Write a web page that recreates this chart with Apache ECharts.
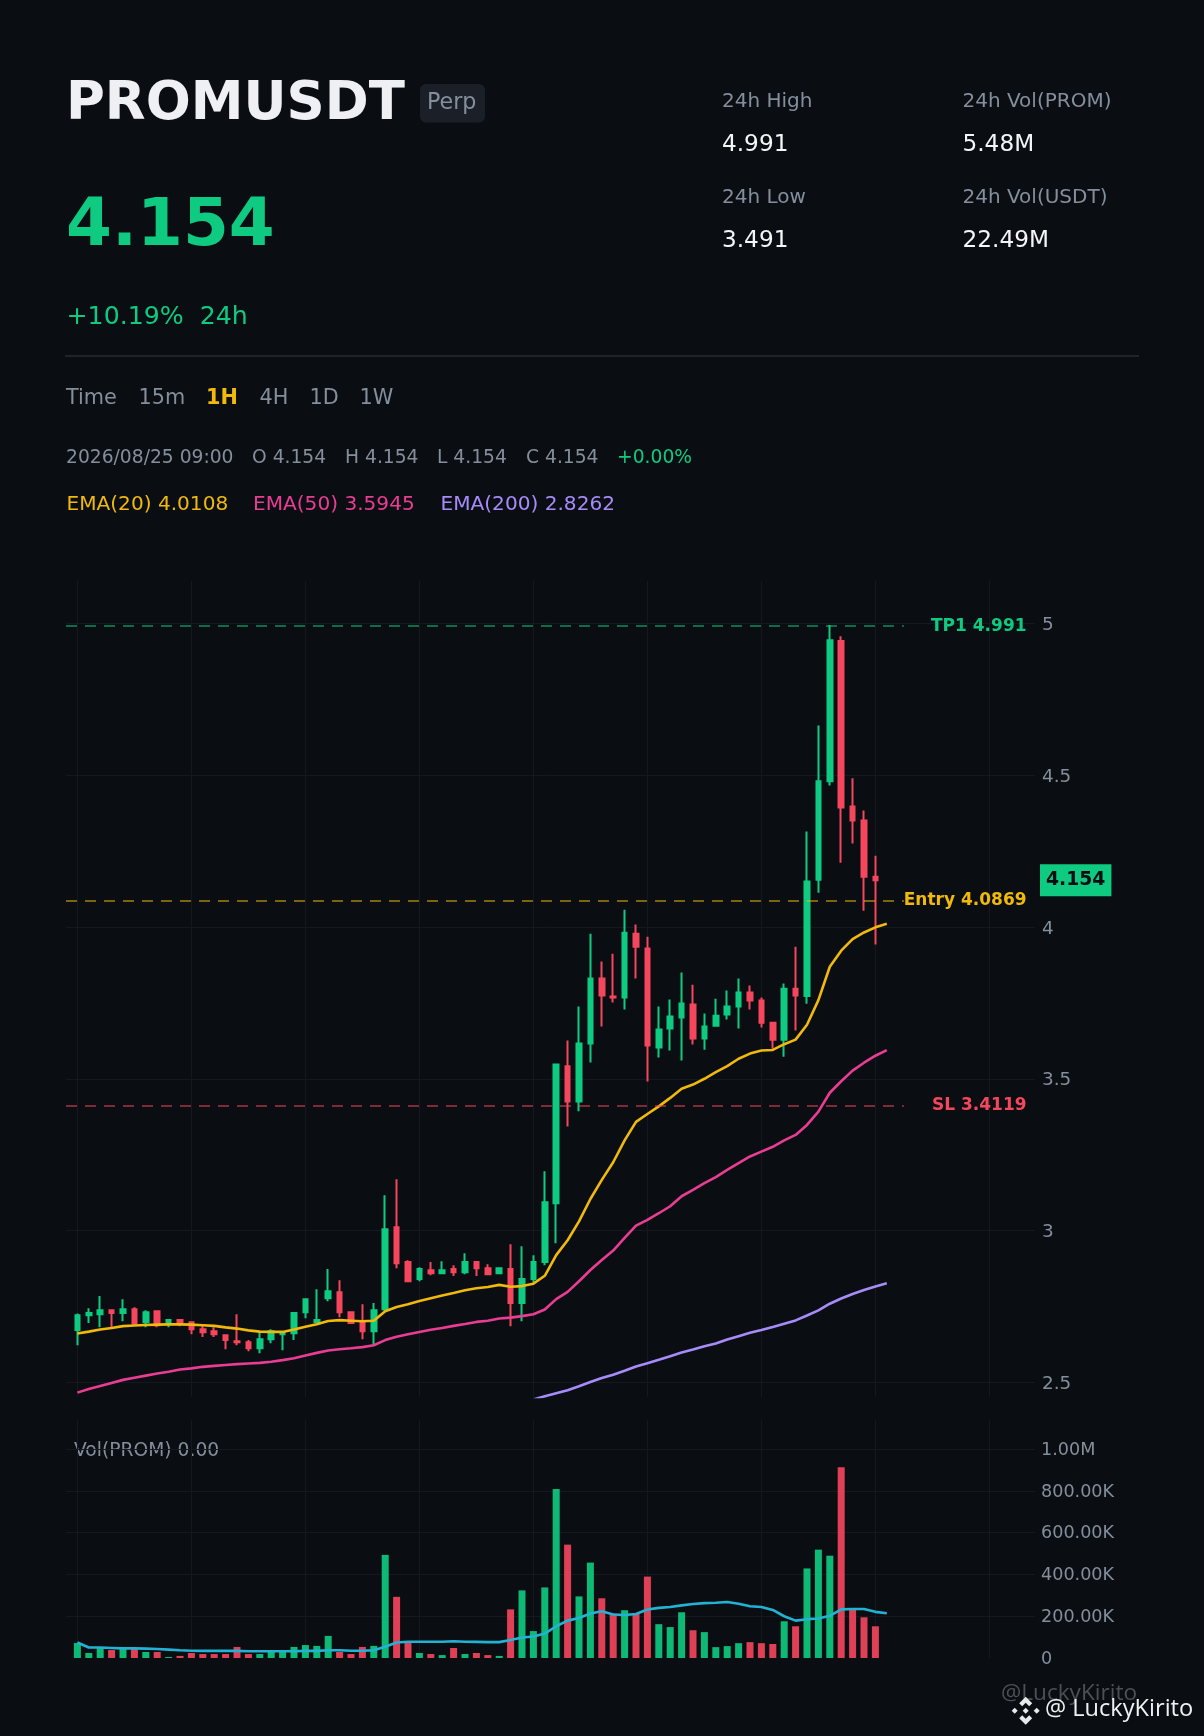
<!DOCTYPE html>
<html>
<head>
<meta charset="utf-8">
<style>html,body{margin:0;padding:0;background:#0a0e12}#c{width:1204px;height:1736px}</style>
<script src="https://cdn.jsdelivr.net/npm/echarts@6/dist/echarts.min.js"></script>
</head>
<body>
<div id="c"></div>
<script>
// ---- data (candle index = hourly bar, oldest first) ----
const candleOpen = [2.672,2.721,2.724,2.737,2.728,2.741,2.698,2.734,2.691,2.705,2.698,2.675,2.668,2.655,2.635,2.632,2.612,2.642,2.658,2.662,2.731,2.698,2.777,2.797,2.731,2.695,2.668,2.741,3.011,2.896,2.840,2.869,2.859,2.873,2.863,2.896,2.876,2.859,2.873,2.761,2.840,2.896,3.090,3.541,3.425,3.616,3.830,3.771,3.768,3.978,3.929,3.603,3.666,3.702,3.745,3.633,3.675,3.712,3.738,3.784,3.758,3.685,3.629,3.797,3.773,4.156,4.480,4.942,4.397,4.351,4.166];
const candleClose = [2.721,2.728,2.737,2.728,2.741,2.694,2.731,2.688,2.705,2.698,2.675,2.665,2.658,2.639,2.632,2.612,2.642,2.668,2.665,2.728,2.774,2.705,2.800,2.731,2.695,2.668,2.7375,3.004,2.892,2.833,2.873,2.859,2.869,2.863,2.896,2.876,2.856,2.876,2.761,2.840,2.896,3.093,3.547,3.425,3.616,3.830,3.774,3.768,3.981,3.935,3.610,3.662,3.705,3.748,3.633,3.672,3.708,3.738,3.784,3.758,3.685,3.629,3.797,3.774,4.150,4.480,4.945,4.394,4.351,4.166,4.154];
const candleLow = [2.622,2.695,2.681,2.681,2.701,2.687,2.681,2.681,2.681,2.685,2.658,2.649,2.649,2.609,2.622,2.602,2.596,2.629,2.606,2.639,2.711,2.695,2.767,2.714,2.695,2.642,2.622,2.734,2.876,2.833,2.833,2.853,2.856,2.850,2.856,2.850,2.853,2.856,2.685,2.701,2.826,2.886,2.958,3.343,3.393,3.554,3.672,3.751,3.728,3.830,3.491,3.570,3.593,3.560,3.613,3.596,3.675,3.695,3.666,3.728,3.669,3.599,3.573,3.659,3.747,4.113,4.466,4.212,4.275,4.054,3.942];
const candleHigh = [2.727,2.744,2.784,2.741,2.774,2.747,2.737,2.737,2.705,2.705,2.698,2.688,2.681,2.655,2.724,2.639,2.665,2.675,2.665,2.731,2.777,2.807,2.873,2.836,2.734,2.757,2.761,3.116,3.169,2.902,2.879,2.896,2.899,2.886,2.925,2.899,2.889,2.879,2.955,2.948,2.919,3.195,3.547,3.626,3.738,3.978,3.886,3.912,4.057,4.008,3.968,3.738,3.761,3.850,3.810,3.715,3.764,3.791,3.830,3.807,3.768,3.685,3.814,3.935,4.315,4.664,4.995,4.958,4.490,4.384,4.235];
const ema20 = [2.661,2.667,2.674,2.679,2.685,2.687,2.689,2.690,2.691,2.691,2.690,2.688,2.686,2.681,2.677,2.671,2.667,2.666,2.666,2.674,2.683,2.691,2.702,2.705,2.703,2.701,2.703,2.734,2.748,2.757,2.768,2.777,2.786,2.794,2.803,2.810,2.814,2.821,2.815,2.817,2.825,2.851,2.919,2.968,3.030,3.104,3.167,3.225,3.297,3.358,3.384,3.409,3.437,3.467,3.481,3.500,3.522,3.542,3.566,3.583,3.593,3.595,3.614,3.629,3.678,3.759,3.869,3.922,3.960,3.982,3.999,4.0108];
const ema50 = [2.466,2.478,2.488,2.498,2.508,2.515,2.522,2.529,2.535,2.542,2.546,2.551,2.554,2.557,2.560,2.562,2.564,2.568,2.573,2.579,2.588,2.597,2.605,2.609,2.612,2.616,2.622,2.639,2.650,2.658,2.666,2.673,2.679,2.686,2.692,2.699,2.703,2.710,2.713,2.718,2.724,2.740,2.774,2.798,2.833,2.870,2.903,2.934,2.976,3.016,3.035,3.057,3.080,3.113,3.134,3.156,3.176,3.200,3.222,3.244,3.260,3.276,3.297,3.315,3.348,3.392,3.454,3.492,3.527,3.553,3.576,3.5945];
// EMA(200) is below the visible price range before index 40
const ema200 = [null,null,null,null,null,null,null,null,null,null,null,null,null,null,null,null,null,null,null,null,null,null,null,null,null,null,null,null,null,null,null,null,null,null,null,null,null,null,null,null,2.443,2.454,2.464,2.474,2.487,2.501,2.514,2.525,2.538,2.552,2.563,2.574,2.586,2.598,2.608,2.619,2.628,2.641,2.652,2.663,2.672,2.682,2.693,2.704,2.720,2.737,2.759,2.776,2.791,2.804,2.816,2.8262];
const volume = [72,24,48,38,43,43,29,29,5,10,24,19,19,19,53,19,19,29,29,53,62,58,106,29,19,53,58,494,293,72,24,19,14,48,19,24,14,10,233,324,129,338,809,543,295,457,286,213,229,213,390,162,148,219,133,124,52,57,71,76,71,67,176,152,429,519,490,914,232,195,152,0];
const volumeMA = [74,50,50,48,46,46,45,43,40,37,35,34,34,34,34,32,32,32,32,32,34,34,37,37,35,35,37,54,74,78,78,78,78,80,78,77,76,76,86,98,103,117,152,179,192,213,224,208,206,211,232,240,244,252,259,263,265,268,260,248,244,230,200,179,186,189,202,233,235,235,221,214];
const priceMin = 2.4516, priceMax = 5.14;
const priceTicks = [2.5,3,3.5,4,4.5,5];
const timeTicks = [0,10,20,30,40,50,60,70,80];
const volTicksMax = 1140;
const lastPrice = 4.154;
const levels = [
  {name:'TP1', value:4.991, color:'#0ecb81'},
  {name:'Entry', value:4.0869, color:'#f0b90b'},
  {name:'SL', value:3.4119, color:'#f6465d'}
];

// ---- colours ----
const UP='#0ecb81', DOWN='#f6465d', BG='#0a0e12', GREY='#848e9c', GRID='#15191f', PINK='#e93d94';
const FONT='"DejaVu Sans"';

const rows = candleOpen.map((o,i)=>[i,o,candleClose[i],candleLow[i],candleHigh[i]]);
const pairs = a => a.map((v,i)=>[i,v]);
const isUp = i => i<candleOpen.length ? candleClose[i]>=candleOpen[i] : true;

function levelLine(l){
  return [{coord:[-1,l.value],lineStyle:{color:l.color,opacity:.5}},{coord:[72.5,l.value]}];
}

function txt(text,x,base,size,color,weight,family){
  return {type:'text',x:x,y:base-.261*size,silent:true,
    style:{text:text,fontSize:size,fill:color,fontWeight:weight||'normal',fontFamily:family||FONT,align:'left',verticalAlign:'middle'}};
}
const logo=[
 [[0,-14],[6.5,-7.5],[3.5,-4.5],[0,-8],[-3.5,-4.5],[-6.5,-7.5]],
 [[0,14],[6.5,7.5],[3.5,4.5],[0,8],[-3.5,4.5],[-6.5,7.5]],
 [[-14,0],[-11,-3],[-8,0],[-11,3]],
 [[14,0],[11,-3],[8,0],[11,3]],
 [[0,-3],[3,0],[0,3],[-3,0]]
].map(p=>({type:'polygon',x:1025.7,y:1710.7,silent:true,shape:{points:p},style:{fill:'#e8e9eb'}}));

const graphics=[
  {type:'rect',x:420,y:84,silent:true,shape:{width:65,height:38.5,r:6},style:{fill:'#1b1f28'}},
  txt('PROMUSDT',66,118.6,53,'#eef0f4','bold'),
  txt('Perp',427,108.6,22.2,GREY),
  txt('4.154',66,245,66,UP,'bold'),
  txt('+10.19%  24h',66.5,324,25.2,UP),
  {type:'rect',x:65,y:355,silent:true,shape:{width:1074,height:2},style:{fill:'#1e2330'}},
  txt('24h High',722,107,20,GREY),
  txt('4.991',722,151,23.2,'#f4f5f7'),
  txt('24h Low',722,203,20,GREY),
  txt('3.491',722,246.8,23.2,'#f4f5f7'),
  txt('24h Vol(PROM)',962.5,107,20,GREY),
  txt('5.48M',962.5,151,23.2,'#f4f5f7'),
  txt('24h Vol(USDT)',962.5,203,20,GREY),
  txt('22.49M',962.5,246.8,23.2,'#f4f5f7'),
  txt('Time',66,403.6,20.8,GREY),
  txt('15m',138.5,403.6,20.8,GREY),
  txt('1H',206,403.6,20.8,'#f0b90b','bold'),
  txt('4H',259.5,403.6,20.8,GREY),
  txt('1D',309.5,403.6,20.8,GREY),
  txt('1W',359.5,403.6,20.8,GREY),
  txt('2026/08/25 09:00',66,463,18.7,GREY),
  txt('O 4.154',252,463,18.7,GREY),
  txt('H 4.154',345,463,18.7,GREY),
  txt('L 4.154',437,463,18.7,GREY),
  txt('C 4.154',526,463,18.7,GREY),
  txt('+0.00%',617,463,18.7,UP),
  txt('EMA(20) 4.0108',66.5,510,20.1,'#f0b90b'),
  txt('EMA(50) 3.5945',253,510,20.1,PINK),
  txt('EMA(200) 2.8262',440.5,510,20.1,'#a78bfa'),
  txt('Vol(PROM) 0.00',74,1456.5,18.7,GREY),
  txt('@LuckyKirito',1001,1699,22.6,'#4c5158','normal','"Open Sans"'),
  txt('@ LuckyKirito',1045,1715,23.6,'#f0f1f3','normal','"Open Sans"')
].concat(logo);

const xBase={type:'value',min:-1,max:84,
  axisLabel:{show:false},axisLine:{show:false},axisTick:{show:false,customValues:timeTicks},
  splitLine:{show:true,lineStyle:{color:GRID,width:1}}};

const chart=echarts.init(document.getElementById('c'),null,{renderer:'canvas'});
chart.setOption({
  animation:false,
  backgroundColor:BG,
  textStyle:{fontFamily:FONT},
  graphic:graphics,
  grid:[
    {left:66,right:169,top:581,height:816},
    {left:66,right:169,top:1420,height:238}
  ],
  xAxis:[Object.assign({gridIndex:0},xBase),Object.assign({gridIndex:1},xBase)],
  yAxis:[
    {type:'value',gridIndex:0,position:'right',min:priceMin,max:priceMax,
     axisLine:{show:false},axisTick:{show:false,customValues:priceTicks},
     axisLabel:{customValues:priceTicks,color:GREY,fontSize:18.4,margin:7,align:'left',fontFamily:FONT,verticalAlign:'top',lineHeight:3.4},
     splitLine:{show:true,lineStyle:{color:GRID,width:1}}},
    {type:'value',gridIndex:0,position:'right',min:priceMin,max:priceMax,
     axisLine:{show:false},axisTick:{show:false},splitLine:{show:false},
     axisLabel:{customValues:[lastPrice],margin:5,align:'left',color:BG,fontWeight:'bold',fontSize:18.8,fontFamily:FONT,
       backgroundColor:UP,padding:[7,6,6,6],formatter:v=>Number(v).toFixed(3)}},
    {type:'value',gridIndex:1,position:'right',min:0,max:volTicksMax,interval:200,
     axisLine:{show:false},axisTick:{show:false},
     axisLabel:{color:GREY,fontSize:17.6,margin:6,showMaxLabel:false,align:'left',fontFamily:FONT,verticalAlign:'top',lineHeight:2.2,
       formatter:v=>v===0?'0':(v>=1000?(v/1000).toFixed(2)+'M':v.toFixed(2)+'K')},
     splitLine:{show:true,showMinLine:false,showMaxLine:false,lineStyle:{color:GRID,width:1}}}
  ],
  series:[
    {type:'candlestick',name:'PROMUSDT',xAxisIndex:0,yAxisIndex:0,data:rows,encode:{x:0,y:[1,2,3,4]},
     barWidth:5,
     itemStyle:{color:UP,color0:DOWN,borderColor:UP,borderColor0:DOWN,borderWidth:2},
     markLine:{silent:true,symbol:'none',label:{show:false},
       lineStyle:{type:[11,8],width:1.8},
       data:levels.map(levelLine)},
     markPoint:{silent:true,symbol:'circle',symbolSize:0,
       data:levels.map(l=>({coord:[83.26,l.value],
         label:{show:true,position:'left',distance:0,color:l.color,fontWeight:'bold',fontSize:17,fontFamily:FONT,
           formatter:l.name+' '+l.value}}))}},
    {type:'line',name:'EMA(20)',xAxisIndex:0,yAxisIndex:0,data:pairs(ema20),showSymbol:false,symbol:'none',lineStyle:{color:'#f0b90b',width:2.6}},
    {type:'line',name:'EMA(50)',xAxisIndex:0,yAxisIndex:0,data:pairs(ema50),showSymbol:false,symbol:'none',lineStyle:{color:PINK,width:2.6}},
    {type:'line',name:'EMA(200)',xAxisIndex:0,yAxisIndex:0,data:pairs(ema200),showSymbol:false,symbol:'none',lineStyle:{color:'#a78bfa',width:2.6}},
    {type:'bar',name:'Vol',xAxisIndex:1,yAxisIndex:2,barWidth:7,
     data:volume.map((v,i)=>({value:[i,v],itemStyle:{color:isUp(i)?UP:DOWN,opacity:.9}}))},
    {type:'line',name:'Vol MA',xAxisIndex:1,yAxisIndex:2,data:pairs(volumeMA),showSymbol:false,symbol:'none',lineStyle:{color:'#22b3d4',width:2.6}}
  ]
});
</script>
</body>
</html>
